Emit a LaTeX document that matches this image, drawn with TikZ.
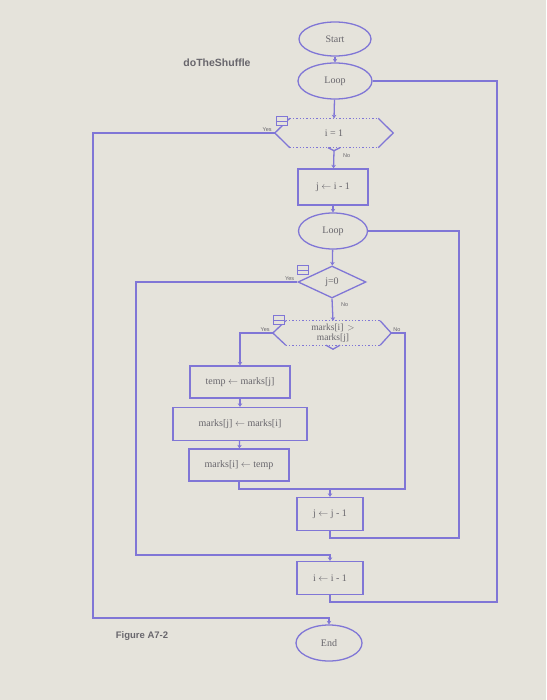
\documentclass[tikz,border=0pt]{standalone}
\usepackage{fontspec}
\setmainfont{Liberation Serif}
\newfontfamily\labsans{Liberation Sans}
\usetikzlibrary{shapes.geometric,arrows.meta}
\definecolor{lin}{RGB}{128,118,214}
\definecolor{bg}{RGB}{229,227,219}
\definecolor{txt}{RGB}{104,102,108}
\begin{document}
\begin{tikzpicture}[x=1pt,y=-1pt,
  conn/.style={draw=lin, line width=1.3pt},
  arr/.style={conn, -{Stealth[length=3.5pt,width=4.5pt]}},
  boxfont/.style={font=\fontsize{10}{11}\selectfont, text=txt},
  term/.style={ellipse, conn, boxfont, inner sep=0pt, minimum width=72pt, minimum height=34pt},
  proc/.style={rectangle, conn, boxfont, inner sep=0pt},
  hexnode/.style={rectangle, boxfont, inner sep=0pt, align=center},
  icon/.style={rectangle, draw=lin, line width=1pt, fill=bg, inner sep=0pt, minimum width=11pt, minimum height=9pt},
  lab/.style={font=\labsans\fontsize{5.5}{6}\selectfont, text=txt, inner sep=0pt},
  title/.style={font=\labsans\bfseries\fontsize{10.5}{12}\selectfont, text=txt, inner sep=0pt}
]
\fill[bg] (0,0) rectangle (546,700);
\useasboundingbox (0,0) rectangle (546,700);

% nodes
\node[term] (start) at (335,39) {Start};
\node[term, minimum width=74pt, minimum height=36pt] (loop1) at (335,81) {Loop};
\node[hexnode, minimum width=88pt, minimum height=29pt] (hex1) at (334,133) {i = 1};
\node[proc, minimum width=70pt, minimum height=36pt] (b1) at (333,187) {j $\leftarrow$ i - 1};
\node[term, minimum width=69pt, minimum height=36pt] (loop2) at (333,231) {Loop};
\node[diamond, conn, boxfont, inner sep=0pt, minimum width=68pt, minimum height=32pt] (dia) at (332,282) {j=0};
\node[hexnode, minimum width=94pt, minimum height=24pt, font=\fontsize{9.5}{9.5}\selectfont] (hex2) at (333,333) {marks[i] \,$>$\\marks[j]};
\node[proc, minimum width=100pt, minimum height=32pt] (temp) at (240,382) {temp $\leftarrow$ marks[j]};
\node[proc, minimum width=134pt, minimum height=33pt] (mj) at (240,424) {marks[j] $\leftarrow$ marks[i]};
\node[proc, minimum width=100pt, minimum height=32pt] (mi) at (239,465) {marks[i] $\leftarrow$ temp};
\node[proc, minimum width=66pt, minimum height=33pt] (b2) at (330,514) {j $\leftarrow$ j - 1};
\node[proc, minimum width=66pt, minimum height=33pt] (b3) at (330,578) {i $\leftarrow$ i - 1};
\node[term, minimum width=66pt, minimum height=36pt] (end) at (329,643) {End};

% hexagon outlines
\coordinate (h1w) at ([xshift=-15pt]hex1.west);
\coordinate (h1e) at ([xshift=15pt]hex1.east);
\draw[conn] (hex1.north west) -- (h1w) -- (hex1.south west);
\draw[conn] (hex1.north east) -- (h1e) -- (hex1.south east);
\draw[conn, dotted] (hex1.north west) -- (hex1.north east);
\draw[conn, dotted] (hex1.south west) -- (hex1.south east);
\draw[conn] ([xshift=-6pt]hex1.south) -- ([yshift=-3pt]hex1.south) -- ([xshift=6pt]hex1.south);

\coordinate (h2w) at ([xshift=-13pt]hex2.west);
\coordinate (h2e) at ([xshift=11pt]hex2.east);
\draw[conn] (hex2.north west) -- (h2w) -- (hex2.south west);
\draw[conn] (hex2.north east) -- (h2e) -- (hex2.south east);
\draw[conn, dotted] (hex2.north west) -- (hex2.north east);
\draw[conn, dotted] (hex2.south west) -- (hex2.south east);
\draw[conn] ([xshift=-7pt]hex2.south) -- ([yshift=-4pt]hex2.south) -- ([xshift=7pt]hex2.south);

% loop icons
\node[icon] (ic1) at (282,121) {};
\draw[draw=lin, line width=0.8pt] (ic1.west) -- (ic1.east);
\node[icon] (ic2) at (303,270) {};
\draw[draw=lin, line width=0.8pt] (ic2.west) -- (ic2.east);
\node[icon] (ic3) at (279,320) {};
\draw[draw=lin, line width=0.8pt] (ic3.west) -- (ic3.east);

% junction points
\coordinate (c1) at (93,133);
\coordinate (c2) at (93,618);
\coordinate (c3) at (end.north |- c2);
\coordinate (d1) at (136,282);
\coordinate (d2) at (136,555);
\coordinate (d3) at (b3.north |- d2);
\coordinate (e1) at (temp.north |- h2w);
\coordinate (f1) at (405,333);
\coordinate (f2) at (405,489);
\coordinate (f3) at (b2.north |- f2);
\coordinate (g1) at (mi.south |- f2);
\coordinate (k1) at (330,538);
\coordinate (k2) at (459,538);
\coordinate (k3) at (459,231);
\coordinate (m1) at (330,602);
\coordinate (m2) at (497,602);
\coordinate (m3) at (497,81);

% connectors
\draw[arr] (start) -- (loop1);
\draw[arr] (loop1) -- (hex1.north);
\draw[arr] (h1w) -- (c1) -- (c2) -- (c3) -- (end);
\draw[arr] ([yshift=-3pt]hex1.south) -- (b1);
\draw[arr] (b1) -- (loop2);
\draw[arr] (loop2) -- (dia);
\draw[conn] (loop2.east) -- (k3) -- (k2) -- (k1) -- (b2.south);
\draw[arr] (dia.west) -- (d1) -- (d2) -- (d3) -- (b3);
\draw[arr] (dia.south) -- (hex2.north);
\draw[arr] (h2w) -- (e1) -- (temp);
\draw[arr] (h2e) -- (f1) -- (f2) -- (f3) -- (b2);
\draw[arr] (temp) -- (mj);
\draw[arr] (mj) -- (mi);
\draw[conn] (mi.south) -- (g1) -- (f3);
\draw[conn] (b3.south) -- (m1) -- (m2) -- (m3) -- (loop1.east);

% labels
\node[lab, anchor=south east] (y1) at ([xshift=-3pt,yshift=1pt]h1w) {Yes};
\node[lab, anchor=west] (n1) at ([xshift=9pt,yshift=-8pt]hex1.south) {No};
\node[lab, anchor=south east] (y2) at ([xshift=-3pt,yshift=1pt]dia.west) {Yes};
\node[lab, anchor=west] (n2) at ([xshift=9pt,yshift=-6pt]dia.south) {No};
\node[lab, anchor=south east] (y3) at ([xshift=-3pt,yshift=1pt]h2w) {Yes};
\node[lab, anchor=south west] (n3) at ([xshift=2pt,yshift=1pt]h2e) {No};

\node[title] (ttl) at (217,63) {doTheShuffle};
\node[title, font=\labsans\bfseries\fontsize{9.5}{12}\selectfont] (fig) at (142,636) {Figure A7-2};
\end{tikzpicture}
\end{document}
